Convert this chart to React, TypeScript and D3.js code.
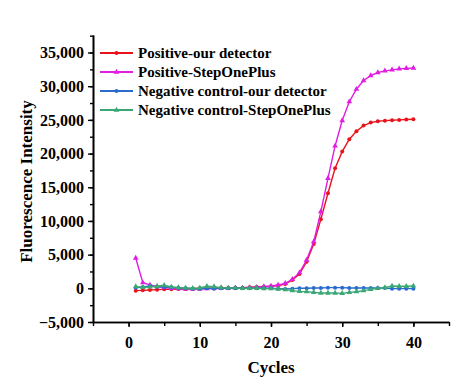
import React, { useEffect, useRef } from "react";
import * as d3 from "d3";

const width = 474,
  height = 389;
const margin = { top: 35, right: 25, bottom: 67, left: 93 };

const cycles = d3.range(1, 41);

// values, cycles 1..40
const posOurs = [
  -350, -300, -250, -200, -150, -150, -100, -100, -50, 0,
  0, 0, 50, 50, 100, 100, 150, 200, 250, 300,
  400, 640, 1230, 2120, 3950, 6580, 10250, 14110, 17820, 20290,
  22130, 23320, 24150, 24600, 24800, 24890, 24940, 25000, 25050, 25100,
];
const posStep = [
  4500, 830, 500, 250, 100, 0, -50, -100, -100, -100,
  -50, 0, 0, 0, 50, 50, 100, 150, 250, 350,
  500, 740, 1340, 2320, 4200, 6920, 11380, 16330, 21130, 24900,
  27700, 29550, 30840, 31580, 32030, 32280, 32430, 32570, 32650, 32700,
];
const negOurs = [
  100, 200, 350, 250, 200, 150, 100, 0, -50, -50,
  0, -50, 0, 0, 0, 0, 0, 0, 0, 0,
  -50, -100, -50, 0, 0, 50, 50, 100, 100, 100,
  50, 50, 50, 50, 50, 50, -50, -50, -50, -50,
];
const negStep = [
  250, 150, 200, 300, 450, 200, 100, 50, 0, 50,
  300, 250, 100, 50, 50, 0, 0, 0, -50, -50,
  -100, -200, -350, -450, -500, -600, -700, -700, -700, -750,
  -600, -500, -350, -150, 0, 100, 350, 300, 300, 350,
];

const seriesNames = [
  "Positive-our detector",
  "Positive-StepOnePlus",
  "Negative control-our detector",
  "Negative control-StepOnePlus",
];
const seriesColors = ["#e8141c", "#e21de2", "#2a6ccc", "#3aa874"];
const seriesShapes = ["circle", "triangle", "circle", "triangle"];
const seriesValues = [posOurs, posStep, negOurs, negStep];

const yMajor = d3.range(-5000, 35001, 5000);
const yMinor = d3.range(-5000, 37501, 2500);
const xMajor = [0, 10, 20, 30, 40];
const xMinor = d3.range(-5, 46, 5);

const font = "'Liberation Serif', 'Times New Roman', serif";

const x = d3
  .scaleLinear()
  .domain([-5, 45])
  .range([margin.left, width - margin.right]);
const y = d3
  .scaleLinear()
  .domain([-5000, 37600])
  .range([height - margin.bottom, margin.top]);

const line = d3
  .line<number>()
  .x((_, i) => x(cycles[i]))
  .y((d) => y(d));

const tri = d3.symbol(d3.symbolTriangle, 14)();

function Marker({ shape, color, cx, cy }) {
  if (shape === "triangle")
    return <path d={tri} transform={`translate(${cx},${cy})`} fill={color} />;
  return <circle cx={cx} cy={cy} r={2} fill={color} />;
}

export default function App() {
  const xAxisRef = useRef(null);
  const xMinorRef = useRef(null);
  const yAxisRef = useRef(null);
  const yMinorRef = useRef(null);

  useEffect(() => {
    const styleAxis = (g) => {
      g.select(".domain").attr("stroke", "#000").attr("stroke-width", 1.6);
      g.selectAll(".tick line").attr("stroke", "#000").attr("stroke-width", 1.4);
      g.selectAll("text")
        .attr("font-family", font)
        .attr("font-weight", "bold")
        .attr("font-size", 16)
        .attr("fill", "#000");
    };
    d3.select(yAxisRef.current)
      .call(
        d3
          .axisLeft(y)
          .tickValues(yMajor)
          .tickFormat(d3.format(","))
          .tickSize(5)
          .tickSizeOuter(0)
          .tickPadding(4),
      )
      .call(styleAxis);
    d3.select(yMinorRef.current)
      .call(d3.axisLeft(y).tickValues(yMinor).tickFormat(() => "").tickSize(3).tickSizeOuter(0))
      .call(styleAxis);
    d3.select(xAxisRef.current)
      .call(
        d3
          .axisBottom(x)
          .tickValues(xMajor)
          .tickFormat(d3.format("d"))
          .tickSize(5)
          .tickSizeOuter(0)
          .tickPadding(10),
      )
      .call(styleAxis);
    d3.select(xMinorRef.current)
      .call(d3.axisBottom(x).tickValues(xMinor).tickFormat(() => "").tickSize(4).tickSizeOuter(0))
      .call(styleAxis);
  }, []);

  const legendX = 100,
    legendY = 53,
    legendStep = 19;

  return (
    <svg
      width={width}
      height={height}
      style={{ position: "absolute", left: 0, top: 0, background: "#fff" }}
    >
      {seriesValues.map((vals, s) => (
        <g key={s}>
          <path d={line(vals)} fill="none" stroke={seriesColors[s]} strokeWidth={1.4} />
          {vals.map((v, i) => (
            <Marker
              key={i}
              shape={seriesShapes[s]}
              color={seriesColors[s]}
              cx={x(cycles[i])}
              cy={y(v)}
            />
          ))}
        </g>
      ))}

      <g ref={yMinorRef} transform={`translate(${margin.left},0)`} />
      <g ref={yAxisRef} transform={`translate(${margin.left},0)`} />
      <g ref={xMinorRef} transform={`translate(0,${height - margin.bottom})`} />
      <g ref={xAxisRef} transform={`translate(0,${height - margin.bottom})`} />

      {seriesNames.map((name, s) => (
        <g key={name} transform={`translate(${legendX},${legendY + s * legendStep})`}>
          <line x1={0} x2={33} y1={0} y2={0} stroke={seriesColors[s]} strokeWidth={2} />
          <Marker shape={seriesShapes[s]} color={seriesColors[s]} cx={16.5} cy={0} />
          <text
            x={38}
            y={5}
            fontFamily={font}
            fontWeight="bold"
            fontSize={15}
            fill="#000"
          >
            {name}
          </text>
        </g>
      ))}

      <text
        transform={`translate(32,${(margin.top + height - margin.bottom) / 2 + 3}) rotate(-90)`}
        textAnchor="middle"
        fontFamily={font}
        fontWeight="bold"
        fontSize={17}
      >
        Fluorescence Intensity
      </text>
      <text
        x={271}
        y={373}
        textAnchor="middle"
        fontFamily={font}
        fontWeight="bold"
        fontSize={17}
      >
        Cycles
      </text>
    </svg>
  );
}
